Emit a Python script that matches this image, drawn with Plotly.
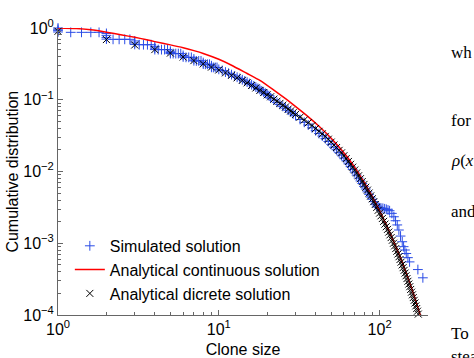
import plotly.graph_objects as go

# ---------------- data ----------------
# Simulated solution (blue +)
sim_size = [1, 1, 1, 1, 1.2, 1.4, 1.6, 1.8,
            2, 2, 2, 2, 2.2, 2.4, 2.6, 2.8,
            3, 3, 3, 3.2, 3.4, 3.6, 3.8,
            4, 4, 4, 4.2, 4.4, 4.6, 4.8,
            5, 5, 5, 5.2, 5.4, 5.6, 5.8,
            6, 6, 6.25, 6.5, 6.75,
            7, 7, 7.25, 7.5, 7.75,
            8, 8, 8.25, 8.5, 8.75,
            9, 9, 9.25, 9.5, 9.75,
            10, 10.5, 11, 11.5, 12, 12.5, 13, 13.5, 14, 14.5, 15, 15.5,
            16, 16.5, 17, 17.5, 18, 18.5, 19, 19.5, 20, 20.5,
            21, 22, 23, 24, 25, 26, 27, 28, 29, 30,
            32, 34, 36, 38, 40, 42, 44, 46, 48, 50, 52, 54, 56, 58, 60,
            62, 64, 66, 68, 70, 72, 74, 76, 78, 80, 82, 84, 86, 88, 90,
            92, 94, 96, 98, 100, 102, 104.8, 107.5, 110.1, 112.8, 115.4,
            119.2, 122.7, 125.7, 128.8, 131.8, 135, 138.3, 141, 143.6,
            146.5, 150, 153.6, 173, 185.8]
sim_cdf = [1.0, 0.96, 0.92, 0.88, 0.87, 0.87, 0.87, 0.87,
           0.84, 0.79, 0.74, 0.70, 0.695, 0.695, 0.695, 0.695,
           0.66, 0.62, 0.59, 0.585, 0.585, 0.585, 0.585,
           0.555, 0.525, 0.50, 0.50, 0.50, 0.50, 0.50,
           0.475, 0.455, 0.44, 0.44, 0.44, 0.44, 0.44,
           0.415, 0.395, 0.39, 0.39, 0.39,
           0.37, 0.35, 0.348, 0.348, 0.348,
           0.33, 0.314, 0.312, 0.312, 0.312,
           0.298, 0.283, 0.282, 0.282, 0.282,
           0.265, 0.256, 0.243, 0.234, 0.224, 0.215, 0.206, 0.198, 0.19, 0.183,
           0.176, 0.168, 0.162, 0.156, 0.150, 0.144, 0.139, 0.133, 0.128, 0.123,
           0.119, 0.114,
           0.106, 0.099, 0.092, 0.086, 0.081, 0.0765, 0.0715, 0.0675, 0.0635, 0.060,
           0.0531, 0.0485, 0.0445, 0.0406, 0.037, 0.0338, 0.0312, 0.0287, 0.0262,
           0.0239, 0.0218, 0.0201, 0.0183, 0.0169, 0.0154,
           0.0141, 0.0128, 0.0117, 0.0107, 0.0098, 0.0089, 0.0081, 0.0074, 0.0068,
           0.0062, 0.0057, 0.0052, 0.0048, 0.0044, 0.0041,
           0.0038, 0.0035, 0.0033, 0.00318, 0.00312, 0.00309, 0.00307, 0.00302,
           0.00297, 0.00291, 0.00284,
           0.00261, 0.00234, 0.00206, 0.0018, 0.00153, 0.00126, 0.00105, 0.000896,
           0.000805, 0.00072, 0.00063, 0.00055, 0.00043, 0.00033]

# Analytical continuous solution (red line)
cont_size = [1, 1.3, 1.6, 2, 2.5, 3, 3.5, 4, 5, 6, 7, 8, 10, 12, 15, 18, 22,
             26, 29, 35, 42, 50, 62, 70, 80, 90, 100, 115, 133, 150, 165, 175,
             185, 195]
cont_cdf = [1.0, 0.982, 0.944, 0.875, 0.80, 0.741, 0.692, 0.646, 0.582, 0.531,
            0.484, 0.442, 0.367, 0.303, 0.232, 0.186, 0.136, 0.1035, 0.0855,
            0.061, 0.0427, 0.029, 0.0166, 0.0114, 0.00713, 0.00446, 0.00282,
            0.00145, 0.000676, 0.000331, 0.000178, 0.000117, 0.0000794,
            0.0000537]

# Analytical discrete solution (black x)
disc_size = list(range(1, 31)) + list(range(32, 175, 2))
disc_cdf = [0.90, 0.69, 0.58, 0.50, 0.447, 0.394, 0.351, 0.316, 0.285, 0.26,
            0.237, 0.219, 0.202, 0.186, 0.172, 0.158, 0.146, 0.135, 0.126, 0.117,
            0.110, 0.102, 0.0955, 0.0891, 0.0841, 0.0794, 0.0741, 0.070, 0.066, 0.0624,
            # 32 .. 60
            0.0571, 0.0522, 0.0479, 0.0437, 0.0398, 0.0363, 0.0335, 0.0309, 0.0282,
            0.0257, 0.0234, 0.0216, 0.0197, 0.0182, 0.0166,
            # 62 .. 100
            0.01514, 0.0138, 0.01259, 0.01148, 0.01047, 0.00955, 0.00871, 0.00794,
            0.00724, 0.00661, 0.00603, 0.0055, 0.00501, 0.00457, 0.00417, 0.0038,
            0.00347, 0.00316, 0.00288, 0.00263,
            # 102 .. 174
            0.00241, 0.00221, 0.00202, 0.00185, 0.0017, 0.00156, 0.00143, 0.00131,
            0.0012, 0.0011, 0.001, 0.00092, 0.000843, 0.000773, 0.000708, 0.000649,
            0.000594, 0.000545, 0.000499, 0.000457, 0.000419, 0.000384, 0.000352,
            0.000322, 0.000295, 0.00027, 0.000248, 0.000227, 0.000208, 0.000191,
            0.000175, 0.00016, 0.000147, 0.000134, 0.000123, 0.000113, 0.000103]

series_names = ["Simulated solution", "Analytical continuous solution",
                "Analytical dicrete solution"]

x_title = "Clone size"
y_title = "Cumulative distribution"
x_tick_vals = [1, 10, 100]
x_tick_text = ["10<sup>0</sup>", "10<sup>1</sup>", "10<sup>2</sup>"]
y_tick_vals = [1e-4, 1e-3, 1e-2, 1e-1, 1]
y_tick_text = ["10<sup>\u22124</sup>", "10<sup>\u22123</sup>", "10<sup>\u22122</sup>",
               "10<sup>\u22121</sup>", "10<sup>0</sup>"]

# fragments of the surrounding page text visible at the right edge
side_text = ["wh", "for", "<i>\u03c1</i>(<i>x</i>", "and", "To", "stea"]
side_text_y = [0.916, 0.679, 0.540, 0.359, -0.063, -0.143]

# ---------------- figure ----------------
FONT = "Liberation Sans, Arial, Helvetica, sans-serif"
fig = go.Figure()

fig.add_trace(go.Scatter(
    x=sim_size, y=sim_cdf, mode="markers", name=series_names[0],
    cliponaxis=False,
    marker=dict(symbol="cross-thin", size=7, color="#2a4ce6",
                line=dict(width=1, color="#2a4ce6"))))

fig.add_trace(go.Scatter(
    x=cont_size, y=cont_cdf, mode="lines", name=series_names[1],
    line=dict(color="#ff0000", width=1.5, shape="spline", smoothing=0.5)))

fig.add_trace(go.Scatter(
    x=disc_size, y=disc_cdf, mode="markers", name=series_names[2],
    cliponaxis=False,
    marker=dict(symbol="x-thin", size=7, color="black",
                line=dict(width=1, color="black"))))

minor_x = [m * 10 ** k for k in range(0, 3) for m in range(2, 10) if m * 10 ** k <= 200]
minor_y = [m * 10.0 ** k for k in range(-4, 0) for m in range(2, 10)]

axis_common = dict(
    showline=True, linecolor="#666", linewidth=1, mirror=False,
    ticks="inside", ticklen=5, tickcolor="#666", tickwidth=1,
    showgrid=False, zeroline=False, automargin=False,
    tickfont=dict(family=FONT, size=16, color="black"),
)

fig.update_xaxes(
    type="log", range=[0, 2.301], tickmode="array",
    tickvals=x_tick_vals, ticktext=x_tick_text,
    minor=dict(tickmode="array", tickvals=minor_x, ticks="inside", ticklen=3,
               tickcolor="#666", showgrid=False),
    title=dict(text=x_title, font=dict(family=FONT, size=16, color="black")),
    **axis_common)

fig.update_yaxes(
    type="log", range=[-4, 0], tickmode="array",
    tickvals=y_tick_vals, ticktext=y_tick_text,
    minor=dict(tickmode="array", tickvals=minor_y, ticks="inside", ticklen=3,
               tickcolor="#666", showgrid=False),
    **axis_common)

# y-axis title placed like the reference (closer to the tick labels)
fig.add_annotation(text=y_title, xref="paper", yref="paper", x=-0.124, y=0.5,
                   xanchor="center", yanchor="middle", textangle=-90,
                   showarrow=False,
                   font=dict(family=FONT, size=16, color="black"))

for txt, yy in zip(side_text, side_text_y):
    fig.add_annotation(text=txt, xref="paper", yref="paper", x=1.057, y=yy,
                       xanchor="left", yanchor="middle", showarrow=False,
                       font=dict(family="Liberation Serif, Times New Roman, serif",
                                 size=17, color="black"))

fig.update_layout(
    width=474, height=358, autosize=False,
    margin=dict(l=58, r=46, t=28, b=43),
    paper_bgcolor="white", plot_bgcolor="white",
    showlegend=True,
    legend=dict(x=0.032, y=0.30, xanchor="left", yanchor="top",
                bgcolor="rgba(0,0,0,0)", borderwidth=0,
                font=dict(family=FONT, size=16, color="black"),
                itemsizing="trace", tracegroupgap=0),
)

fig.write_html("out.html", config={"displayModeBar": False},
               post_script="document.body.style.margin='0';"
                           "document.body.style.overflow='hidden';")
